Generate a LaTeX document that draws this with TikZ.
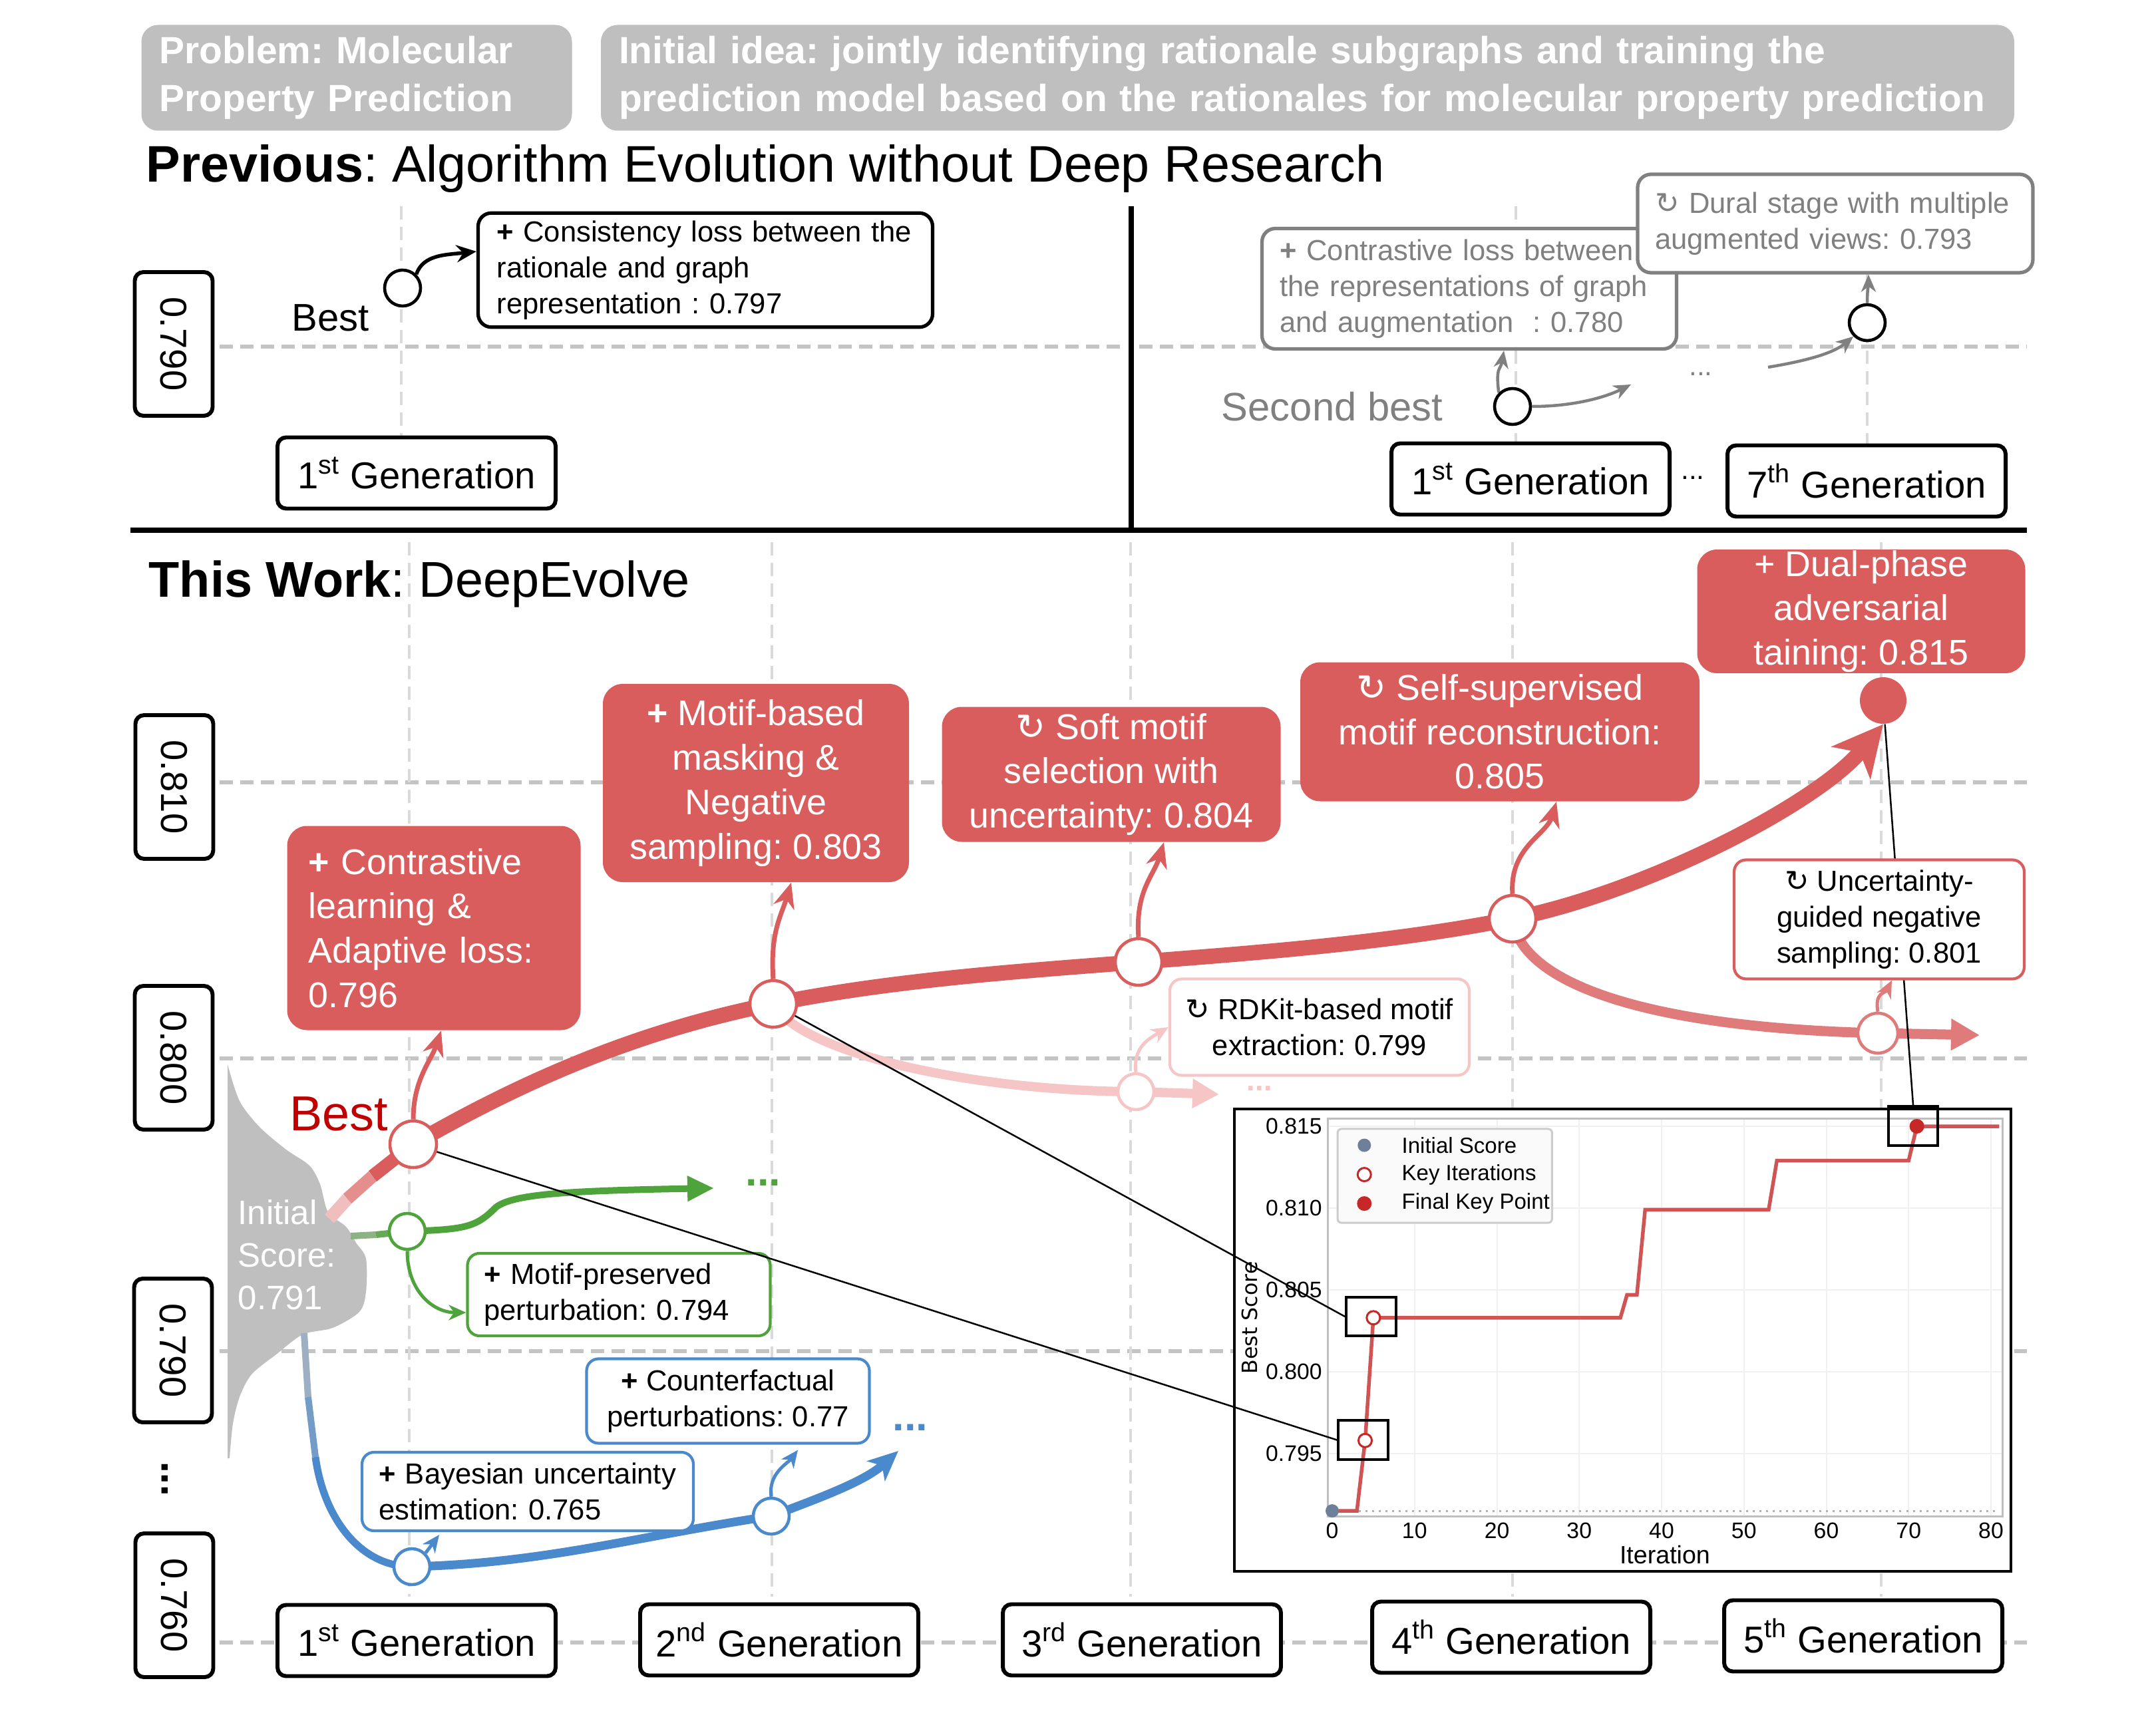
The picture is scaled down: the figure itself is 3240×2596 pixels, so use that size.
\documentclass[tikz,border=0pt]{standalone}
\usepackage{fontspec}
\setmainfont{Liberation Sans}
\newfontfamily\symfont{DejaVu Sans}
\usetikzlibrary{arrows.meta,positioning,calc}
\frenchspacing

\definecolor{boxred}{HTML}{D95D5D}
\definecolor{bestred}{HTML}{C00000}
\definecolor{lowred}{HTML}{E07B7B}
\definecolor{pinkred}{HTML}{F6C6C6}
\definecolor{evgreen}{HTML}{4FA33B}
\definecolor{evblue}{HTML}{4A89CB}
\definecolor{shapegray}{HTML}{BFBFBF}
\definecolor{gridgray}{HTML}{C4C4C4}
\definecolor{vgridgray}{HTML}{DADADA}
\definecolor{oldgray}{HTML}{808080}
\definecolor{stepred}{HTML}{CF5555}
\definecolor{keyred}{HTML}{C62828}
\definecolor{initgray}{HTML}{6E7F99}

\newcommand{\cyc}{{\symfont ↻}}
\pgfdeclarelayer{bg}
\pgfsetlayers{bg,main}

\begin{document}
\begin{tikzpicture}[x=0.1mm, y=-0.1mm,
    topbox/.style={fill=shapegray, rounded corners=2.5mm, text=white, align=left,
                   minimum height=15.9mm, inner xsep=2.7mm,
                   font=\bfseries\fontsize{16.2}{20.5}\selectfont},
    gen/.style={draw, fill=white, line width=1.7pt, rounded corners=1.3mm,
                minimum width=41.8mm, minimum height=10.7mm, inner sep=0pt,
                font=\fontsize{16}{19}\selectfont},
    yax/.style={draw, fill=white, line width=1.7pt, rounded corners=1.3mm,
                rotate=-90, minimum width=21.6mm, minimum height=11.7mm,
                inner sep=0pt, font=\fontsize{16}{19}\selectfont},
    note/.style={draw=#1, fill=white, line width=1.5pt, rounded corners=2mm,
                 align=left, text=#1, font=\fontsize{12.4}{15.3}\selectfont},
    redbox/.style={fill=boxred, text=white, rounded corners=3mm, inner sep=0pt,
                   align=center, font=\fontsize{15.3}{19}\selectfont},
    cbox/.style={draw=#1, fill=white, line width=1.2pt, rounded corners=1.8mm,
                 align=center, inner sep=0pt, font=\fontsize{12.4}{15.3}\selectfont},
    knot/.style={circle, draw=#1, fill=white, line width=1.3pt, inner sep=0pt},
    hgrid/.style={gridgray, line width=0.6mm, dash pattern=on 2mm off 1.1mm},
    vgrid/.style={vgridgray, line width=0.45mm, dash pattern=on 2mm off 1.1mm},
    uparr/.style={line width=0.7mm, -{Stealth[length=3.8mm,width=3.2mm,inset=1.2mm]}},
    smallarr/.style={line width=0.5mm, -{Stealth[length=2.6mm,width=2.3mm,inset=0.8mm]}},
    oldarr/.style={oldgray, line width=0.45mm, -{Stealth[length=2.6mm,width=2.2mm,inset=0.8mm]}},
    ellip/.style={font=\bfseries\fontsize{18}{18}\selectfont},
    ticklbl/.style={font=\fontsize{9.6}{11}\selectfont, inner sep=1pt},
    legtxt/.style={font=\fontsize{9.4}{11}\selectfont, anchor=west, inner sep=0pt},
  ]
  \useasboundingbox (0,0) rectangle (3240,2596);

  % ---- header ----
  \node[topbox, text width=59.3mm] (prob) at (536,117)
    {Problem: Molecular\\Property Prediction};
  \node[topbox, text width=207mm] (idea) at (1965,117)
    {Initial idea: jointly identifying rationale subgraphs and training the\\prediction model based on the rationales for molecular property prediction};
  \node[anchor=west, inner sep=0pt, font=\fontsize{22}{24}\selectfont] (prevtitle) at (219,254)
    {\textbf{Previous}: Algorithm Evolution without Deep Research};

  % ---- previous, left ----
  \node[yax] (py) at (261,517) {0.790};
  \node[gen] (pg1) at (626,711) {1\textsuperscript{st} Generation};
  \node[knot=black, minimum size=5.4mm] (pbest) at (605,433) {};
  \node[font=\fontsize{16.5}{19}\selectfont] (pbestlbl) at (497,478) {Best};
  \node[note=black, text width=62.7mm, inner xsep=2.8mm, minimum height=16.2mm] (cons) at (1060,406)
    {\textbf{+} Consistency loss between the\\rationale and graph\\representation : 0.797};

  % ---- previous, right ----
  \node[note=oldgray, text width=56.9mm, inner xsep=2.7mm, minimum height=18.1mm] (ctr) at (2208,434)
    {\textbf{+} Contrastive loss between\\the representations of graph\\and augmentation\ \ : 0.780};
  \node[note=oldgray, text width=54.2mm, inner xsep=2.6mm, minimum height=14.8mm] (dural) at (2758,336)
    {\cyc{} Dural stage with multiple\\augmented views: 0.793};
  \node[font=\fontsize{17}{19}\selectfont, text=oldgray] (second) at (2002,611) {Second best};
  \node[knot=black, minimum size=5.4mm] (psb) at (2273,611) {};
  \node[knot=black, minimum size=5.4mm] (p7) at (2806,485) {};
  \node[font=\fontsize{12}{12}\selectfont, text=oldgray] (pdots) at (2556,562) {...};
  \coordinate (pnext) at (2451,578);
  \coordinate (pmid) at (2657,552);
  \node[gen] (pg1b) at (2300,720) {1\textsuperscript{st} Generation};
  \node[gen] (pg7) at (2805,723) {7\textsuperscript{th} Generation};
  \node[font=\fontsize{12}{12}\selectfont] (gdots) at (2544,718) {...};

  \draw[line width=0.8mm] (1700,310) -- (1700,797);
  \draw[line width=0.8mm] (196,797) -- (3046,797);

  % ---- this work ----
  \node[anchor=west, inner sep=0pt, font=\fontsize{21.5}{24}\selectfont] (worktitle) at (223,878)
    {\textbf{This Work}: DeepEvolve};
  \node[yax] (y810) at (262,1183) {0.810};
  \node[yax] (y800) at (261,1590) {0.800};
  \node[yax] (y790) at (260,2030) {0.790};
  \node[yax] (y760) at (262,2413) {0.760};
  \node[ellip, rotate=90] (ydots) at (248,2223) {...};

  \foreach \gx/\gy/\sfx/\nm [count=\i] in {626/2466/st/1, 1171/2465/nd/2, 1716/2465/rd/3, 2271/2461/th/4, 2800/2459/th/5}
    \node[gen] (gen\i) at (\gx,\gy) {\nm\textsuperscript{\sfx} Generation};

  % score distribution label
  \node[anchor=west, inner sep=0pt, align=left, text=white, font=\fontsize{14.5}{18.2}\selectfont] (init) at (357,1886)
    {Initial\\Score:\\0.791};
  \node[text=bestred, font=\fontsize{21}{24}\selectfont] (bestlbl) at (509,1674) {Best};

  % nodes of the evolution
  \node[knot=boxred, minimum size=7mm] (best) at (621,1720) {};
  \node[knot=boxred, minimum size=7mm] (g2) at (1162,1509) {};
  \node[knot=boxred, minimum size=7mm] (g3) at (1711,1446) {};
  \node[knot=boxred, minimum size=7mm] (g4) at (2273,1381) {};
  \node[circle, fill=boxred, minimum size=7mm, inner sep=0pt] (fin) at (2830,1053) {};
  \node[knot=pinkred, minimum size=5.4mm] (pk) at (1707,1641) {};
  \node[knot=lowred, minimum size=6mm] (g5) at (2822,1553) {};
  \node[knot=evgreen, minimum size=5.4mm] (gc) at (612,1851) {};
  \node[knot=evblue, minimum size=5.4mm] (b1) at (619,2355) {};
  \node[knot=evblue, minimum size=5.4mm] (b2) at (1159,2279) {};
  \coordinate (src) at (495,1832);
  \coordinate (src2) at (527,1858);
  \coordinate (src3) at (457,2004);
  \coordinate (ptip) at (1832,1645);
  \coordinate (ltip) at (2975,1556);
  \coordinate (gtip) at (1073,1786);
  \coordinate (btip) at (1350,2181);

  % ideas
  \node[redbox, align=left, text width=37.7mm, inner xsep=3.2mm, minimum height=30.7mm] (rb1) at (652,1395)
    {\textbf{+} Contrastive\\learning \&\\Adaptive loss:\\0.796};
  \node[redbox, minimum width=46mm, minimum height=29.8mm] (rb2) at (1136,1177)
    {\textbf{+} Motif-based\\masking \&\\Negative\\sampling: 0.803};
  \node[redbox, minimum width=50.9mm, minimum height=20.3mm] (rb3) at (1670,1164)
    {\cyc{} Soft motif\\selection with\\uncertainty: 0.804};
  \node[redbox, minimum width=60mm, minimum height=20.9mm] (rb4) at (2254,1100)
    {\cyc{} Self-supervised\\motif reconstruction:\\0.805};
  \node[redbox, minimum width=49.3mm, minimum height=18.6mm] (rb5) at (2797,919)
    {+ Dual-phase\\adversarial\\taining: 0.815};
  \node[cbox=pinkred, minimum width=45mm, minimum height=14.5mm] (rdk) at (1983,1544)
    {\cyc{} RDKit-based motif\\extraction: 0.799};
  \node[cbox=boxred, minimum width=43.6mm, minimum height=17.9mm] (unc) at (2824,1382)
    {\cyc{} Uncertainty-\\guided negative\\sampling: 0.801};
  \node[cbox=evgreen, align=left, text width=40.5mm, inner xsep=2.5mm, minimum height=12.4mm] (mp) at (930,1946)
    {\textbf{+} Motif-preserved\\perturbation: 0.794};
  \node[cbox=evblue, minimum width=42.5mm, minimum height=12.7mm] (cf) at (1094,2106)
    {\textbf{+} Counterfactual\\perturbations: 0.77};
  \node[cbox=evblue, align=left, text width=44.8mm, inner xsep=2.5mm, minimum height=11.8mm] (bay) at (793,2242)
    {\textbf{+} Bayesian uncertainty\\estimation: 0.765};

  \node[ellip, text=evgreen] (gdot) at (1147,1778) {...};
  \node[ellip, text=pinkred, font=\bfseries\fontsize{13}{13}\selectfont] (pdot) at (1893,1636) {...};
  \node[ellip, text=evblue] (bdot) at (1368,2146) {...};

  % ---- inset chart ----
  \draw[fill=white, line width=0.35mm] (1855,1667) rectangle (3022,2362);
  \begin{scope}[shift={(2002,2308)}, x=1.2375mm, y=2.46mm]
    \foreach \t in {10,20,...,80} \draw[gray!12, line width=0.2mm] (\t,1.14) -- (\t,25.45);
    \foreach \v in {5,10,...,25} \draw[gray!12, line width=0.2mm] (-0.5,\v) -- (81.45,\v);
    \draw[gray!50, line width=0.3mm] (-0.5,1.14) rectangle (81.45,25.45);
    \draw[gray!60, dotted, line width=0.3mm] (0,1.5) -- (81,1.5);
    \draw[stepred, line width=0.55mm] (0,1.5) -- (3,1.5) -- (4,5.8) -- (5,13.3) -- (35,13.3)
      -- (35.8,14.7) -- (37,14.7) -- (38,19.9) -- (53,19.9) -- (54,22.9) -- (70,22.9)
      -- (71,25) -- (81,25);
    \node[circle, fill=initgray, minimum size=2mm, inner sep=0pt] (m0) at (0,1.5) {};
    \node[circle, draw=keyred, fill=white, line width=0.3mm, minimum size=2mm, inner sep=0pt] (m1) at (4,5.8) {};
    \node[circle, draw=keyred, fill=white, line width=0.3mm, minimum size=2mm, inner sep=0pt] (m2) at (5,13.3) {};
    \node[circle, fill=keyred, minimum size=2.2mm, inner sep=0pt] (m3) at (71,25) {};
    \foreach \v/\lab in {5/0.795,10/0.800,15/0.805,20/0.810,25/0.815}
      \node[ticklbl, anchor=east] at (-0.9,\v) {\lab};
    \foreach \t in {0,10,...,80}
      \node[ticklbl] at (\t,0.3) {\t};
    \node[font=\fontsize{10.7}{12}\selectfont] (xlab) at (40.4,-1.2) {Iteration};
    \node[rotate=90, font=\symfont\fontsize{9}{11}\selectfont] (ylab) at (-10,13.3) {Best Score};
    % legend
    \draw[fill=gray!4, draw=gray!40, rounded corners=0.6mm, line width=0.3mm] (0.65,24.84) rectangle (26.7,19.1);
    \node[circle, fill=initgray, minimum size=2mm, inner sep=0pt] at (3.9,23.84) {};
    \node[circle, draw=keyred, fill=white, line width=0.3mm, minimum size=2mm, inner sep=0pt] at (3.9,22.05) {};
    \node[circle, fill=keyred, minimum size=2.2mm, inner sep=0pt] at (3.9,20.28) {};
    \node[legtxt] at (8.4,23.84) {Initial Score};
    \node[legtxt] at (8.4,22.05) {Key Iterations};
    \node[legtxt] at (8.4,20.28) {Final Key Point};
    % key points
    \node[draw, line width=0.35mm, minimum width=7.5mm, minimum height=5.9mm, inner sep=0pt] (kp1) at (3.76,5.83) {};
    \node[draw, line width=0.35mm, minimum width=7.5mm, minimum height=5.8mm, inner sep=0pt] (kp2) at (4.73,13.37) {};
    \node[draw, line width=0.35mm, minimum width=7.4mm, minimum height=5.9mm, inner sep=0pt] (kp3) at (70.55,25.02) {};
  \end{scope}
  \draw[line width=0.25mm] (best) -- (kp1.west);
  \draw[line width=0.25mm] (g2) -- (kp2.west);

  \begin{pgfonlayer}{bg}
    % grid
    \draw[hgrid] (330,521) -- (1690,521);
    \draw[hgrid] (1712,521) -- (3046,521);
    \foreach \gx/\gy in {603/657, 2278/665, 2806/669} \draw[vgrid] (\gx,310) -- (\gx,\gy);
    \foreach \gy in {1176,1591,2031,2469} \draw[hgrid] (330,\gy) -- (3046,\gy);
    \foreach \gx in {615,1160,1699,2273,2827} \draw[vgrid] (\gx,815) -- (\gx,2400);

    % previous arrows
    \draw[line width=0.55mm, -{Stealth[length=3mm,width=2.6mm,inset=1mm]}]
      (pbest.north east) .. controls +(10,-30) and +(-45,5) .. ($(cons.west)+(0,-28)$);
    \draw[oldarr] (psb.north west) .. controls +(-5,-40) and +(-5,30) .. ($(ctr.south)+(52,0)$);
    \draw[oldarr] (psb.east) .. controls +(60,0) and +(-40,20) .. (pnext);
    \draw[oldarr] (pmid) .. controls +(60,-10) and +(-30,25) .. (p7.south west);
    \draw[oldarr] (p7.north) .. controls +(0,-20) and +(0,15) .. ($(dural.south)+(50,0)$);

    % score distribution
    \fill[shapegray] plot[smooth, tension=0.5] coordinates {(342,1600) (360,1655) (390,1694) (430,1728)
      (465,1752) (481,1780) (493,1822) (520,1844) (535,1868) (550,1892) (550,1942) (540,1972)
      (500,1996) (455,2006) (415,2036) (378,2066) (360,2100) (350,2140) (345,2192)} -- (342,2192) -- cycle;

    % main red line
    \draw[line width=1.9mm, boxred!40!white] (src) -- (522,1802);
    \draw[line width=1.9mm, boxred!70!white] (522,1802) -- (560,1768);
    \draw[line width=2mm, boxred] (560,1768) -- (best.center);
    \draw[boxred, line width=2.3mm, -{Stealth[length=7.5mm,width=7.5mm,inset=2mm]}]
      (best.center) .. controls +(190,-110) and +(-180,36) .. (g2.center)
      .. controls +(180,-36) and +(-180,14) .. (g3.center)
      .. controls +(180,-14) and +(-180,36) .. (g4.center)
      .. controls +(200,-40) and +(-100,120) .. (fin.south);
    \draw[pinkred, line width=1.4mm, -{Triangle[length=4mm,width=4.2mm]}]
      (g2.center) .. controls (1200,1580) and (1450,1640) .. (pk.center) -- (ptip);
    \draw[lowred, line width=1.5mm, -{Triangle[length=4.3mm,width=4.5mm]}]
      (g4.center) .. controls (2285,1480) and (2480,1545) .. (g5.center) -- (ltip);
    \draw[uparr, boxred] (best.north) .. controls +(0,-60) and +(-15,45) .. ($(rb1.south)+(11,0)$);
    \draw[uparr, boxred] (g2.north) .. controls +(-5,-70) and +(-15,50) .. ($(rb2.south)+(53,0)$);
    \draw[uparr, boxred] (g3.north) .. controls +(-5,-70) and +(-15,50) .. ($(rb3.south)+(79,0)$);
    \draw[uparr, boxred] (g4.north) .. controls +(-5,-70) and +(-15,50) .. ($(rb4.south)+(85,0)$);
    \draw[smallarr, lowred] (g5.north) .. controls +(-5,-30) and +(-10,20) .. ($(unc.south)+(19,0)$);
    \draw[smallarr, pinkred] (pk.north) .. controls +(-5,-40) and +(-25,15) .. (rdk.west);
    \draw[line width=0.25mm] (fin) -- (kp3.north);

    % green line
    \draw[line width=1mm, evgreen!45!shapegray] (src2) -- (565,1856);
    \draw[line width=1mm, evgreen!80!shapegray] (565,1856) -- (gc.center);
    \draw[evgreen, line width=1mm, -{Triangle[length=4mm,width=3.6mm]}]
      (gc.center) .. controls (700,1848) and (715,1845) .. (745,1815)
      .. controls (770,1795) and (850,1790) .. (gtip);
    \draw[smallarr, evgreen] (gc.south) .. controls +(0,60) and +(-50,0) .. ($(mp.west)+(0,27)$);

    % blue line
    \draw[line width=1mm, evblue!30!shapegray] (src3) -- (463,2100);
    \draw[line width=1mm, evblue!65!shapegray] (463,2100) -- (474,2190);
    \draw[line width=1.1mm, evblue] (474,2190) .. controls (486,2280) and (540,2355) .. (b1.center);
    \draw[evblue, line width=1.3mm, -{Stealth[length=4.5mm,width=4mm,inset=1.2mm]}]
      (b1.center) .. controls +(200,-5) and +(-200,30) .. (b2.center)
      .. controls +(80,-30) and +(-50,45) .. (btip);
    \draw[smallarr, evblue] (b1.north east) -- ($(bay.south)+(-133,4)$);
    \draw[smallarr, evblue] (b2.north) .. controls +(-5,-35) and +(-15,20) .. ($(cf.south)+(105,8)$);
  \end{pgfonlayer}
\end{tikzpicture}
\end{document}
